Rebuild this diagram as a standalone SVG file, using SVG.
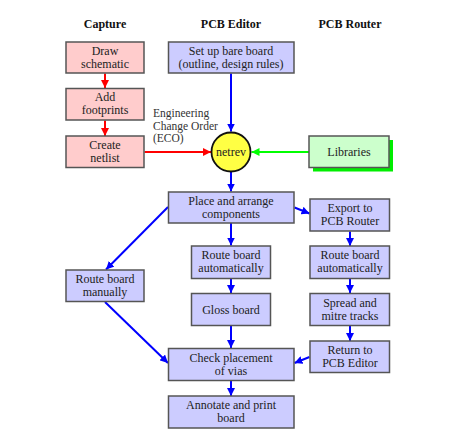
<svg xmlns="http://www.w3.org/2000/svg" width="460" height="444" viewBox="0 0 460 444">
<defs>
<marker id="ar" viewBox="0 0 10 10" refX="10" refY="5" markerWidth="8" markerHeight="8" markerUnits="userSpaceOnUse" orient="auto"><path d="M0,0 L10,5 L0,10 z" fill="#ff0000"/></marker>
<marker id="ab" viewBox="0 0 10 10" refX="10" refY="5" markerWidth="8" markerHeight="8" markerUnits="userSpaceOnUse" orient="auto"><path d="M0,0 L10,5 L0,10 z" fill="#0000ff"/></marker>
<marker id="ag" viewBox="0 0 10 10" refX="10" refY="5" markerWidth="8" markerHeight="8" markerUnits="userSpaceOnUse" orient="auto"><path d="M0,0 L10,5 L0,10 z" fill="#00ff00"/></marker>
</defs>
<style>
text{font-family:"Liberation Serif","Times New Roman",serif;font-size:12px;fill:#222;text-anchor:middle}
.h{font-weight:bold;fill:#111}
.pk{fill:#ffcccc;stroke:#555;stroke-width:1.5}
.bl{fill:#ccccff;stroke:#555;stroke-width:1.5}
.gr{fill:#ccffcc;stroke:#555;stroke-width:1.5}
.r{stroke:#ff0000;stroke-width:2;fill:none;marker-end:url(#ar)}
.b{stroke:#0000ff;stroke-width:2;fill:none;marker-end:url(#ab)}
.g{stroke:#00ff00;stroke-width:2;fill:none;marker-end:url(#ag)}
.eco{text-anchor:start;fill:#333;font-size:11.5px}
</style>
<rect width="460" height="444" fill="#fff"/>
<text class="h" x="105" y="28">Capture</text>
<text class="h" x="231" y="28">PCB Editor</text>
<text class="h" x="350" y="28">PCB Router</text>

<g id="connectors">
<path class="r" d="M105,73.5 V88"/>
<path class="r" d="M105,120.5 V136"/>
<path class="r" d="M144.5,152 H211"/>
<path class="b" d="M231,73.5 V131.5"/>
<path class="g" d="M309,152 H251.5"/>
<path class="b" d="M231,172 V191.5"/>
<path class="b" d="M231,223 V245.5"/>
<path class="b" d="M231,278.5 V293"/>
<path class="b" d="M231,326 V348"/>
<path class="b" d="M231,381 V396"/>
<path class="b" d="M294.5,207.5 L309.5,213.5"/>
<path class="b" d="M350,231.5 V246"/>
<path class="b" d="M350,278.5 V293"/>
<path class="b" d="M350,326 V341"/>
<path class="b" d="M309.5,357 L294.5,363"/>
<path class="b" d="M168,207 L106,269.5"/>
<path class="b" d="M105,302 L168,363"/>
</g>
<g id="eco-label">
<text class="eco" x="153" y="117">Engineering</text>
<text class="eco" x="153" y="129.5">Change Order</text>
<text class="eco" x="153" y="142">(ECO)</text>
</g>

<g id="draw"><rect class="pk" x="66" y="42" width="78" height="31"/><text x="105" y="54.5">Draw</text><text x="105" y="67.5">schematic</text></g>
<g id="footprints"><rect class="pk" x="66" y="88.5" width="78" height="31.5"/><text x="105" y="101">Add</text><text x="105" y="114">footprints</text></g>
<g id="netlist"><rect class="pk" x="66" y="136" width="78" height="31.5"/><text x="105" y="148.5">Create</text><text x="105" y="161.5">netlist</text></g>
<g id="setup"><rect class="bl" x="168.5" y="42" width="125.5" height="31"/><text x="231" y="54.5">Set up bare board</text><text x="231" y="67.5">(outline, design rules)</text></g>
<g id="netrev"><circle cx="231" cy="152" r="19.5" fill="#ffff44" stroke="#111" stroke-width="1.8"/><text x="231" y="156">netrev</text></g>
<g id="libraries"><rect x="313" y="140" width="80" height="31.5" fill="#00ee00"/><rect class="gr" x="309" y="136" width="80" height="31.5"/><text x="349" y="156">Libraries</text></g>
<g id="place"><rect class="bl" x="168.5" y="192" width="125.5" height="31"/><text x="231" y="204.5">Place and arrange</text><text x="231" y="217.5">components</text></g>
<g id="export"><rect class="bl" x="310" y="199" width="79.5" height="32"/><text x="350" y="212">Export to</text><text x="350" y="225">PCB Router</text></g>
<g id="route-auto-ed"><rect class="bl" x="191.5" y="246" width="79" height="32.5"/><text x="231" y="259">Route board</text><text x="231" y="272">automatically</text></g>
<g id="route-auto-rt"><rect class="bl" x="310" y="246" width="79.5" height="32.5"/><text x="350" y="259">Route board</text><text x="350" y="272">automatically</text></g>
<g id="manual"><rect class="bl" x="66" y="270" width="78" height="31.5"/><text x="105" y="282.5">Route board</text><text x="105" y="295.5">manually</text></g>
<g id="gloss"><rect class="bl" x="191.5" y="293.5" width="79" height="32"/><text x="231" y="313.5">Gloss board</text></g>
<g id="spread"><rect class="bl" x="310" y="293.5" width="79.5" height="32"/><text x="350" y="306.5">Spread and</text><text x="350" y="319.5">mitre tracks</text></g>
<g id="return"><rect class="bl" x="310" y="341" width="79.5" height="31.5"/><text x="350" y="353.5">Return to</text><text x="350" y="366.5">PCB Editor</text></g>
<g id="check"><rect class="bl" x="168.5" y="348.5" width="125.5" height="32"/><text x="231" y="361.5">Check placement</text><text x="231" y="374.5">of vias</text></g>
<g id="annotate"><rect class="bl" x="168.5" y="396" width="125.5" height="32"/><text x="231" y="409">Annotate and print</text><text x="231" y="422">board</text></g>
</svg>
